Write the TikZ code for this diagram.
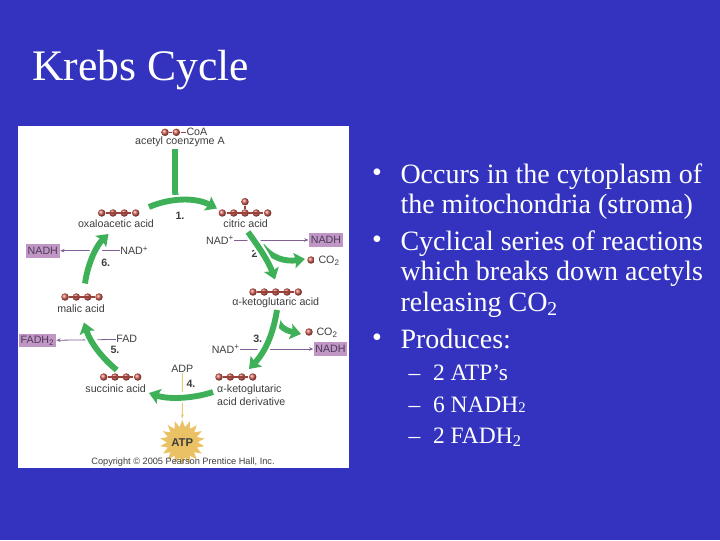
\documentclass[tikz,border=0pt]{standalone}
\usepackage{fontspec}
\setmainfont{Liberation Serif}
\newfontfamily\labelfont{Liberation Sans}
\usetikzlibrary{arrows.meta,shapes.geometric}

\definecolor{slideblue}{RGB}{51,51,191}
\definecolor{cyclegreen}{RGB}{62,176,88}
\definecolor{atomred}{RGB}{216,96,84}
\definecolor{redoxpurple}{RGB}{128,96,150}
\definecolor{boxlilac}{RGB}{192,150,196}
\definecolor{atpyellow}{RGB}{232,205,120}
\definecolor{labelgrey}{RGB}{62,62,62}

\tikzset{every picture/.style={line width=0.75pt}}
\tikzset{
	atom/.style={circle,inner sep=0pt,minimum size=5.6pt,ball color=atomred,draw=none},
	bond/.style={draw=atomred!70!black,line width=0.8pt},
	molname/.style={font=\labelfont\fontsize{8}{9.4}\selectfont,text=labelgrey,inner sep=0pt,align=center},
	stepnum/.style={font=\labelfont\bfseries\fontsize{8}{9.4}\selectfont,text=labelgrey,inner sep=0pt},
	carrier/.style={font=\labelfont\fontsize{8}{9.4}\selectfont,text=redoxpurple!60!black,fill=boxlilac,inner sep=0pt,minimum height=10.2pt},
	redox/.style={draw=redoxpurple,line width=0.6pt,-{Stealth[length=3.2pt,width=2.6pt]}},
	energy/.style={draw=atpyellow,line width=0.7pt,-{Stealth[length=3.2pt,width=2.6pt]}},
	cycle/.style={draw=cyclegreen,line width=4.4pt,-{Stealth[length=8pt,width=11.5pt,inset=1.4pt]},
		preaction={draw=white,line width=8pt,-}},
	slidetext/.style={font=\fontsize{21}{25}\selectfont,text=white,inner sep=0pt,anchor=base west},
	subtext/.style={font=\fontsize{17.6}{21}\selectfont,text=white,inner sep=0pt,anchor=base west},
}

\begin{document}
\begin{tikzpicture}[x=0.75pt,y=0.75pt,yscale=-1,xscale=1]
	% slide and picture panel
	\fill [slideblue] (0,0) rectangle (720,540);
	\useasboundingbox (0,0) rectangle (720,540);
	\fill [white] (18,126) rectangle (349,468);

	% Title
	\node [font=\fontsize{32.7}{38}\selectfont,text=white,inner sep=0pt,anchor=base west] (title) at (32,80) {Krebs Cycle};

	% Molecules
	\foreach \x [count=\i] in {165,176.3} \node [atom] (coa\i) at (\x,132.3) {};
	\foreach \x [count=\i] in {101.7,113,124.3,135.7} \node [atom] (oxalo\i) at (\x,213) {};
	\foreach \x [count=\i] in {222.3,233.7,245,256.3,267.7} \node [atom] (citric\i) at (\x,213) {};
	\node [atom] (citricTop) at (245,201.7) {};
	\foreach \x [count=\i] in {253,264.3,275.7,287,298.3} \node [atom] (keto\i) at (\x,292) {};
	\foreach \x [count=\i] in {219,230.3,241.7,252.7} \node [atom] (deriv\i) at (\x,377) {};
	\foreach \x [count=\i] in {103.7,115,126.3,137.7} \node [atom] (succ\i) at (\x,377) {};
	\foreach \x [count=\i] in {65,76.3,87.7,99} \node [atom] (malic\i) at (\x,297) {};
	\node [atom] (coTwoA) at (311,260) {};
	\node [atom] (coTwoB) at (309,332) {};

	% Molecule names
	\node [molname,anchor=west] (coaText) at (186,132.3) {CoA};
	\node [molname] (acetyl) at (180,142) {acetyl coenzyme A};
	\node [molname] (oxalo) at (116,223.7) {oxaloacetic acid};
	\node [molname] (citric) at (245.7,223.7) {citric acid};
	\node [molname] (keto) at (275.7,302.7) {α-ketoglutaric acid};
	\node [molname,anchor=north west,align=left] (deriv) at (216.7,384.5) {α-ketoglutaric\\acid derivative};
	\node [molname] (succ) at (115.7,388.3) {succinic acid};
	\node [molname] (malic) at (81,309) {malic acid};
	\node [molname,anchor=west] (coTwoTextA) at (318,260.5) {CO\textsubscript{2}};
	\node [molname,anchor=west] (coTwoTextB) at (316,333) {CO\textsubscript{2}};

	% Carriers
	\node [molname] (nadA) at (220,240) {NAD\textsuperscript{+}};
	\node [carrier,minimum width=25.5pt] (nadhA) at (326,240) {NADH};
	\node [molname] (nadB) at (134.3,250.7) {NAD\textsuperscript{+}};
	\node [carrier,minimum width=25.5pt] (nadhB) at (42.8,250.7) {NADH};
	\node [molname] (nadC) at (225.7,349) {NAD\textsuperscript{+}};
	\node [carrier,minimum width=25pt] (nadhC) at (330.5,349) {NADH};
	\node [molname] (fad) at (126.7,339.3) {FAD};
	\node [carrier,minimum width=27.5pt] (fadh) at (37.5,340.5) {FADH\textsubscript{2}};
	\node [molname] (adp) at (182.3,369) {ADP};

	% Step numbers
	\node [stepnum] (stepA) at (180,215.5) {1.};
	\node [stepnum] (stepB) at (256,254) {2.};
	\node [stepnum] (stepC) at (257.7,339) {3.};
	\node [stepnum] (stepD) at (191,384) {4.};
	\node [stepnum] (stepE) at (115,350) {5.};
	\node [stepnum] (stepF) at (105.7,263) {6.};

	% ATP
	\node [star,star points=18,star point ratio=1.45,fill=atpyellow!85!orange,inner sep=0pt,minimum size=27pt,
		font=\labelfont\bfseries\fontsize{8.5}{10}\selectfont,text=labelgrey] (atp) at (182.3,442.3) {ATP};
	\node [molname,font=\labelfont\fontsize{6.9}{8}\selectfont] (copyright) at (183,462) {Copyright © 2005 Pearson Prentice Hall, Inc.};

	% Bonds
	\begin{scope}[on background layer/.style={}]
	\draw [bond] (coa2) -- (coaText);
	\end{scope}
	\draw [bond] (citric3) -- (citricTop);

	% Side reactions
	\draw [redox] (nadA) -- (nadhA);
	\draw [redox] (nadB) -- (nadhB);
	\draw [redox] (nadC) -- (nadhC);
	\draw [redox] (fad) -- (fadh);
	\draw [energy] (adp) -- (atp);

	% Cycle anchors
	\coordinate (acetylFoot) at (175,149);
	\coordinate (oneStart) at (149,207);
	\coordinate (oneEnd) at (217,208.5);
	\coordinate (twoStart) at (248,232);
	\coordinate (twoEnd) at (275,279.5);
	\coordinate (twoBranch) at (262,246);
	\coordinate (threeStart) at (277,310);
	\coordinate (threeEnd) at (249,369);
	\coordinate (threeBranch) at (277,318);
	\coordinate (fourStart) at (213,392);
	\coordinate (fourEnd) at (149,393);
	\coordinate (fiveStart) at (116.7,370);
	\coordinate (fiveEnd) at (84,322.5);
	\coordinate (sixStart) at (85,283.5);
	\coordinate (sixEnd) at (108.5,234);

	% Cycle arrows
	\draw [cycle,-] (acetylFoot) -- (175,190) .. controls (175,197) and (177,199) .. (183,200);
	\draw [cycle] (oneStart) .. controls (170,198) and (195,197) .. (oneEnd);
	\draw [cycle] (twoBranch) .. controls (272,258) and (285,262) .. (305,259);
	\draw [cycle] (twoStart) .. controls (258,246) and (268,260) .. (twoEnd);
	\draw [cycle] (threeBranch) .. controls (279,328) and (288,331) .. (301,334);
	\draw [cycle] (threeStart) .. controls (273,335) and (265,352) .. (threeEnd);
	\draw [cycle] (fourStart) .. controls (195,398) and (170,400) .. (fourEnd);
	\draw [cycle] (fiveStart) .. controls (102,358) and (90,342) .. (fiveEnd);
	\draw [cycle] (sixStart) .. controls (88,262) and (97,245) .. (sixEnd);

	% Chains on top of their bonds
	\draw [bond] (coa1) -- (coa2);
	\draw [bond] (oxalo1) -- (oxalo4);
	\draw [bond] (citric1) -- (citric5);
	\draw [bond] (keto1) -- (keto5);
	\draw [bond] (deriv1) -- (deriv4);
	\draw [bond] (succ1) -- (succ4);
	\draw [bond] (malic1) -- (malic4);

	% Bullets
	\node [slidetext,anchor=center] (dotA) at (377,175) {•};
	\node [slidetext] (occursA) at (400,183) {Occurs in the cytoplasm of};
	\node [slidetext] (occursB) at (400,213) {the mitochondria (stroma)};
	\node [slidetext,anchor=center] (dotB) at (377,242) {•};
	\node [slidetext] (seriesA) at (400,250) {Cyclical series of reactions};
	\node [slidetext] (seriesB) at (400,280) {which breaks down acetyls};
	\node [slidetext] (seriesC) at (400,311) {releasing CO\textsubscript{2}};
	\node [slidetext,anchor=center] (dotC) at (377,340) {•};
	\node [slidetext] (produces) at (400,348) {Produces:};
	\node [subtext] (dashA) at (408,380) {–};
	\node [subtext] (atps) at (432.5,380) {2 ATP’s};
	\node [subtext] (dashB) at (408,412) {–};
	\node [subtext] (nadhs) at (432.5,412) {6 NADH{\fontsize{11}{13}\selectfont 2}};
	\node [subtext] (dashC) at (408,443) {–};
	\node [subtext] (fadhs) at (432.5,443) {2 FADH\textsubscript{2}};
\end{tikzpicture}
\end{document}
